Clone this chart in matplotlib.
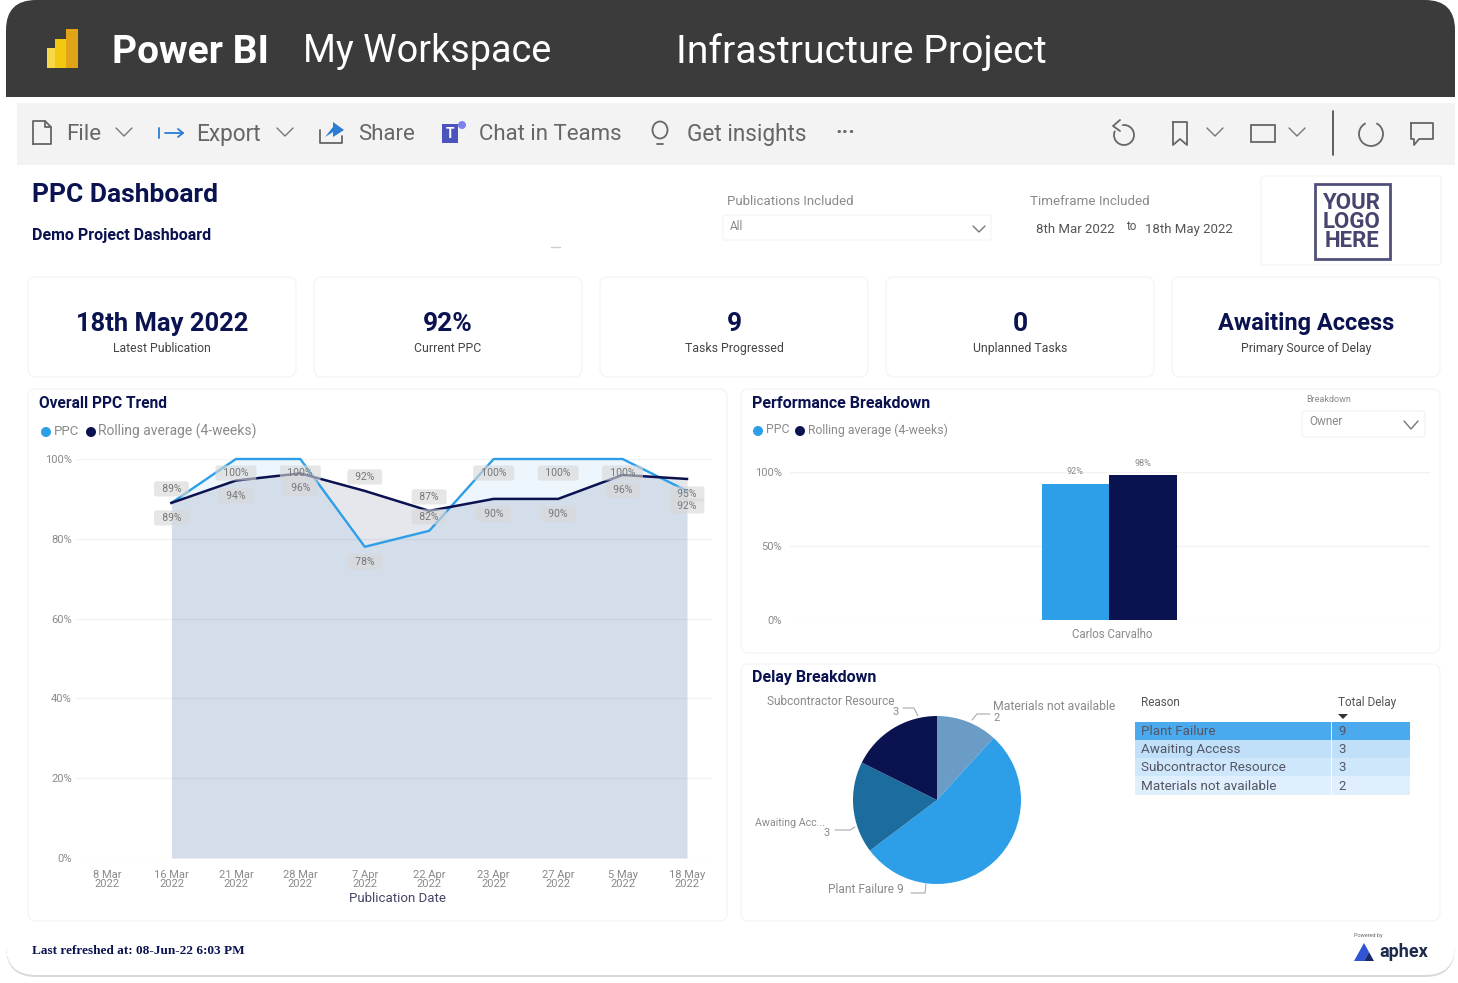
# plot.py - PPC dashboard screenshot rebuilt in matplotlib
import matplotlib
matplotlib.use("Agg")
import matplotlib.pyplot as plt
from matplotlib.patches import FancyBboxPatch, Rectangle, Polygon, Circle, Ellipse

W, H = 1458, 983
NAVY = "#0a1250"
BLUE = "#2d9fe8"
GREY = "#8a8a8a"
DARK = "#3b3b3b"
EDGE = "#f5f5f5"

plt.rcParams["font.family"] = ["Roboto", "DejaVu Sans"]

# trend chart
dates = ["8 Mar\n2022", "16 Mar\n2022", "21 Mar\n2022", "28 Mar\n2022", "7 Apr\n2022",
         "22 Apr\n2022", "23 Apr\n2022", "27 Apr\n2022", "5 May\n2022", "18 May\n2022"]
ppc_x = [1, 2, 3, 4, 5, 6, 7, 8, 9]
ppc = [89, 100, 100, 78, 82, 100, 100, 100, 92]
rolling = [89, 94.6, 96.4, 92, 87, 90, 90, 96, 95]
ppc_label_off = [14, -14, -14, -15, 14, -14, -14, -14, -15]
rolling_label_off = [-15, -15, -15, 14, 14, -15, -15, -15, -15]
y_ticks = [0, 20, 40, 60, 80, 100]

# performance chart
owner = ["Carlos Carvalho"]
owner_ppc = [92]
owner_rolling = [98]
perf_ticks = [0, 50, 100]

# delay pie + table
reasons = ["Plant Failure", "Awaiting Access", "Subcontractor Resource", "Materials not available"]
delays = [9, 3, 3, 2]
pie_order = [3, 0, 1, 2]
pie_colors = ["#6b9cc6", BLUE, "#1c6c9e", NAVY]

# KPI cards
kpi_values = ["18th May 2022", "92%", "9", "0", "Awaiting Access"]
kpi_sizes = [18.4, 19, 19, 19, 17]
kpi_labels = ["Latest Publication", "Current PPC", "Tasks Progressed", "Unplanned Tasks", "Primary Source of Delay"]

fig = plt.figure(figsize=(W / 100, H / 100), dpi=100, facecolor="white")
bg = fig.add_axes([0, 0, 1, 1])
bg.set_xlim(0, W)
bg.set_ylim(H, 0)
bg.axis("off")


def px_axes(left, top, right, bottom):
    ax = fig.add_axes([left / W, 1 - bottom / H, (right - left) / W, (bottom - top) / H])
    ax.patch.set_alpha(0)
    for s in ax.spines.values():
        s.set_visible(False)
    ax.tick_params(length=0)
    return ax


def box(x0, y0, x1, y1, fc="white", ec="none", r=8, lw=1, z=1):
    bg.add_patch(FancyBboxPatch((x0, y0), x1 - x0, y1 - y0, boxstyle=f"round,pad=0,rounding_size={r}",
                                fc=fc, ec=ec, lw=lw, zorder=z))


def txt(x, y, s, size=8, color=GREY, weight="normal", ha="left", **kw):
    # va=center sits a little high for this font, nudge it down
    bg.text(x, y + 0.11 * size, s, fontsize=size, color=color, fontweight=weight, ha=ha, va="center", zorder=6, **kw)


def line(xs, ys, color="#555555", lw=1.3, z=5):
    bg.plot(xs, ys, color=color, lw=lw, zorder=z, solid_capstyle="round", solid_joinstyle="round")


def chevron(x, y, w=8, h=4, color="#777777", lw=1.0):
    line([x - w, x, x + w], [y - h, y + h, y - h], color, lw)


# window frame
box(6, 2, 1455, 977, fc="#d9d9d9", r=30, z=0)
box(6, 0, 1455, 975, fc="white", r=30, z=1)
box(6, 0, 1455, 130, fc=DARK, r=30, z=1)
bg.add_patch(Rectangle((6, 97), 1449, 60, fc="white", zorder=1))
bg.add_patch(Rectangle((17, 103), 1438, 62, fc="#f3f3f3", zorder=2))

# header
bg.add_patch(Rectangle((47, 48), 11, 20, fc="#f6d84a", zorder=3))
bg.add_patch(Rectangle((55, 39), 12, 29, fc="#f2c811", zorder=3))
bg.add_patch(Rectangle((66, 29), 12, 39, fc="#e0a416", zorder=3))
txt(112, 49, "Power BI", 28, "white", "bold")
txt(303, 49, "My Workspace", 27.2, "white")
txt(676, 49, "Infrastructure Project", 28.2, "white")

# toolbar
TB = "#666666"
line([33, 33, 45, 51, 51, 33], [144, 121, 121, 127, 144, 144], TB)
line([45, 45, 51], [121, 127, 127], TB)
txt(66, 133, "File", 16, TB)
chevron(124, 132)
line([159, 159], [128, 138], "#2b7cd3")
line([165, 183, 178], [133, 133, 129], "#2b7cd3")
line([183, 178], [133, 137], "#2b7cd3")
txt(196, 133, "Export", 16.3, TB)
chevron(285, 132)
line([320, 320, 342, 342], [130, 143, 143, 136], TB)
bg.add_patch(Polygon([[325, 137], [333, 127], [333, 122], [344, 130], [333, 137], [333, 132]], fc="#2b7cd3", zorder=5))
txt(358, 133, "Share", 16, TB)
bg.add_patch(Rectangle((442, 124), 16, 19, fc="#4b53bc", zorder=5))
bg.add_patch(Circle((462, 125), 4, fc="#7b83eb", zorder=5))
bg.text(450, 134, "T", color="white", fontsize=10, fontweight="bold", ha="center", va="center", zorder=6)
txt(479, 133, "Chat in Teams", 16, TB)
bg.add_patch(Ellipse((660, 130), 15, 17, fc="none", ec=TB, lw=1.3, zorder=5))
line([657, 663], [144, 144], TB)
txt(687, 133, "Get insights", 16.3, TB)
txt(836, 131, "···", 16, TB, "bold")
bg.add_patch(Ellipse((1124, 135), 20, 20, fc="none", ec=TB, lw=1.3, zorder=5))
line([1113, 1121, 1113, 1121], [122, 122, 128, 128], "#f3f3f3", 4)
line([1120, 1113, 1120], [120, 126, 131], TB)
line([1173, 1173, 1180, 1187, 1187, 1173], [122, 145, 139, 145, 122, 122], TB)
chevron(1215, 132)
bg.add_patch(Rectangle((1251, 125), 24, 17, fc="none", ec=TB, lw=1.3, zorder=5))
chevron(1297, 132)
line([1333, 1333], [111, 155], "#444444", 1.2)
bg.add_patch(Ellipse((1371, 134), 24, 24, fc="none", ec=TB, lw=1.3, zorder=5))
line([1368, 1374], [122, 122], "#f3f3f3", 4)
line([1411, 1433, 1433, 1419, 1414, 1414, 1411, 1411], [123, 123, 139, 139, 145, 139, 139, 123], TB)

# title row
txt(32, 193, "PPC Dashboard", 19, NAVY, "bold")
txt(32, 234, "Demo Project Dashboard", 11.5, NAVY, "bold")
txt(727, 200, "Publications Included", 9.5)
box(723, 215, 991, 240, fc="white", ec=EDGE, r=2)
txt(730, 226, "All", 8.5)
chevron(979, 229, 6, 3)
txt(1030, 200, "Timeframe Included", 9.6)
txt(1036, 228, "8th Mar 2022", 9.5, "#555555")
txt(1126, 226, "to", 8.5, "#555555")
txt(1145, 228, "18th May 2022", 9.5, "#555555")
line([551, 560], [247, 247], "#cccccc", 1)

# logo placeholder
box(1261, 176, 1441, 265, fc="white", ec=EDGE, r=3)
bg.add_patch(Rectangle((1315, 184), 75, 75, fc="white", ec="#50507a", lw=2, zorder=3))
bg.text(1352, 222, "YOUR\nLOGO\nHERE", fontsize=16, color="#45456e", fontweight="bold",
        ha="center", va="center", multialignment="center", linespacing=0.82, zorder=6)

# KPI cards
card_x = [(28, 296), (314, 582), (600, 868), (886, 1154), (1172, 1440)]
for (x0, x1), val, sz, lab in zip(card_x, kpi_values, kpi_sizes, kpi_labels):
    box(x0, 277, x1, 377, fc="white", ec=EDGE)
    xc = (x0 + x1) / 2
    txt(xc, 322, val, sz, NAVY, "bold", ha="center")
    txt(xc, 348, lab, 8.8, "#444444", ha="center")

# panels
box(28, 389, 727, 921, fc="white", ec=EDGE)
box(741, 389, 1440, 653, fc="white", ec=EDGE)
box(741, 664, 1440, 921, fc="white", ec=EDGE)

# trend panel
txt(39, 402, "Overall PPC Trend", 11.2, NAVY, "bold")
bg.add_patch(Circle((46, 432), 5, fc=BLUE, zorder=5))
txt(54, 430, "PPC", 9.5)
bg.add_patch(Circle((91, 432), 5, fc=NAVY, zorder=5))
txt(98, 430, "Rolling average (4-weeks)", 10)

spacing = (687 - 107) / 9
ax = px_axes(76, 459, 712, 858)
ax.set_xlim((76 - 107) / spacing, (712 - 107) / spacing)
ax.set_ylim(0, 100)
ax.set_yticks(y_ticks)
ax.set_yticklabels([f"{v}%" for v in y_ticks], fontsize=8, color=GREY)
ax.set_xticks(range(len(dates)))
ax.set_xticklabels(dates, fontsize=8, color=GREY, linespacing=0.85)
ax.tick_params(axis="y", pad=3)
ax.tick_params(axis="x", pad=9)
ax.grid(axis="y", color="#f2f2f2", lw=1)
ax.set_axisbelow(True)
ax.fill_between(ppc_x, ppc, color=BLUE, alpha=0.09, lw=0)
ax.fill_between(ppc_x, rolling, color=NAVY, alpha=0.1, lw=0)
ax.plot(ppc_x, ppc, color=BLUE, lw=1.7, clip_on=False)
ax.plot(ppc_x, rolling, color=NAVY, lw=1.8, clip_on=False)
label_box = dict(boxstyle="round,pad=0.25", fc="#d8d8d8", ec="none", alpha=0.62)
for x, v, off in zip(ppc_x, ppc, ppc_label_off):
    ax.annotate(f"  {int(v)}%  ", (x, v), xytext=(0, off * 0.72), textcoords="offset points", fontsize=7.5,
                color="#777777", ha="center", va="center", bbox=label_box, annotation_clip=False)
for x, v, off in zip(ppc_x, rolling, rolling_label_off):
    ax.annotate(f"  {int(v)}%  ", (x, v), xytext=(0, off * 0.72), textcoords="offset points", fontsize=7.5,
                color="#777777", ha="center", va="center", bbox=label_box, annotation_clip=False)
txt(397, 897, "Publication Date", 9.5, "#444466", ha="center")

# performance panel
txt(752, 402, "Performance Breakdown", 11.5, NAVY, "bold")
bg.add_patch(Circle((758, 431), 5, fc=BLUE, zorder=5))
txt(766, 429, "PPC", 8.8)
bg.add_patch(Circle((800, 431), 5, fc=NAVY, zorder=5))
txt(808, 429, "Rolling average (4-weeks)", 8.8)
txt(1306, 399, "Breakdown", 6.5)
box(1302, 411, 1425, 437, fc="white", ec=EDGE, r=2)
txt(1309, 421, "Owner", 8.5)
chevron(1411, 425, 7, 4)

ax2 = px_axes(790, 472, 1430, 620)
ax2.set_xlim(-0.5, 0.5)
ax2.set_ylim(0, 100)
bar_w = 67.5 / 640
bar_c = -1 / 640
ax2.bar([bar_c - bar_w / 2], owner_ppc, bar_w, color=BLUE)
ax2.bar([bar_c + bar_w / 2], owner_rolling, bar_w, color=NAVY)
ax2.set_yticks(perf_ticks)
ax2.set_yticklabels([f"{v}%" for v in perf_ticks], fontsize=8, color=GREY)
ax2.set_xticks([2 / 640])
ax2.set_xticklabels(owner, fontsize=8.3, color=GREY)
ax2.tick_params(axis="x", pad=6)
ax2.tick_params(axis="y", pad=6)
ax2.grid(axis="y", color="#f2f2f2", lw=1)
ax2.set_axisbelow(True)
ax2.text(bar_c - bar_w / 2, owner_ppc[0] + 5, f"{owner_ppc[0]}%", fontsize=6.5, color=GREY, ha="center", va="bottom")
ax2.text(bar_c + bar_w / 2, owner_rolling[0] + 5, f"{owner_rolling[0]}%", fontsize=6.5, color=GREY, ha="center", va="bottom", clip_on=False)

# delay panel
txt(752, 676, "Delay Breakdown", 11.5, NAVY, "bold")
ax3 = px_axes(853, 716, 1021, 884)
ax3.pie([delays[i] for i in pie_order], colors=pie_colors, startangle=90, counterclock=False, radius=1)
ax3.set_xlim(-1, 1)
ax3.set_ylim(-1, 1)

txt(767, 701, "Subcontractor Resource", 8.6)
txt(893, 711, "3", 8)
line([903, 914, 918], [708, 708, 716], "#aaaaaa", 0.8)
txt(993, 706, "Materials not available", 8.8)
txt(993, 717, "2", 8)
line([972, 977, 990], [720, 714, 714], "#aaaaaa", 0.8)
txt(755, 822, "Awaiting Acc...", 7.7)
txt(824, 832, "3", 8)
line([835, 850, 855], [830, 830, 827], "#aaaaaa", 0.8)
txt(828, 889, "Plant Failure 9", 8.6)
line([911, 925, 926], [893, 893, 884], "#aaaaaa", 0.8)

# delay table
txt(1141, 702, "Reason", 8.5, "#555555")
txt(1338, 702, "Total Delay", 8.5, "#555555")
bg.add_patch(Polygon([[1338, 714], [1348, 714], [1343, 719]], fc="#333333", zorder=5))
row_y = [(722, 740), (740, 758), (758, 776), (776, 795)]
row_c = ["#4aaaed", "#bfe0f8", "#cfe7fa", "#e0effc"]
for (y0, y1), c, r, d in zip(row_y, row_c, reasons, delays):
    bg.add_patch(Rectangle((1135, y0), 275, y1 - y0, fc=c, zorder=3))
    txt(1141, (y0 + y1) / 2 - 0.5, r, 9.7, "#555566")
    txt(1338, (y0 + y1) / 2 - 0.5, str(d), 9.5, "#555566")
line([1331, 1331], [722, 795], "white", 0.6)

# footer
txt(32, 950, "Last refreshed at: 08-Jun-22 6:03 PM", 9.5, NAVY, "bold", family=["Liberation Serif"])
txt(1354, 935, "Powered by", 4, "#666666")
bg.add_patch(Polygon([[1354, 961], [1364, 943], [1369, 952], [1364, 961]], fc="#2f55d4", zorder=5))
bg.add_patch(Polygon([[1364, 961], [1369, 952], [1374, 961]], fc="#1c2a6b", zorder=5))
txt(1379, 951, "aphex", 13, "#1c2a4b", "bold")

fig.savefig("out.png", dpi=100)
